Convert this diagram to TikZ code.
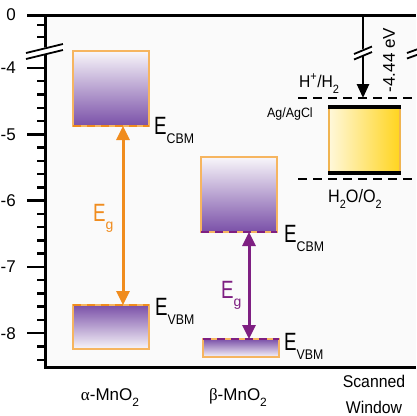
\documentclass[tikz,border=0pt]{standalone}
\usepackage{fontspec}
\setmainfont{Liberation Sans}
\newfontfamily\grk{Liberation Serif}
\usetikzlibrary{arrows.meta}
\definecolor{boxor}{HTML}{F6B560}
\definecolor{aor}{HTML}{F08C1E}
\definecolor{purp}{HTML}{7E1F82}
\definecolor{lav}{HTML}{7A50A8}
\definecolor{lavtop}{HTML}{F8F6FA}
\definecolor{ylw}{HTML}{FFD41E}
\definecolor{pale}{HTML}{FFF8DA}
\definecolor{yedge}{HTML}{F0B450}
\definecolor{bg}{HTML}{FAFAFA}
\newcommand{\nsc}[2]{\scalebox{#1}[1]{#2}}
\newcommand{\Elab}[1]{\nsc{0.75}{\fontsize{25}{25}\selectfont E}\raisebox{-9pt}{\nsc{0.88}{\fontsize{14}{14}\selectfont #1}}}
\newcommand{\Egap}{\nsc{0.75}{\fontsize{25}{25}\selectfont E}\raisebox{-8pt}{\fontsize{14}{14}\selectfont g}}
\newcommand{\subtwo}{\raisebox{-6pt}{\fontsize{12}{12}\selectfont 2}}
\begin{document}
\begin{tikzpicture}[x=1pt,y=-1pt,
  tickline/.style={line width=2.4pt},
  spine/.style={line width=3pt},
  bandbox/.style={draw=boxor,line width=2.5pt},
  gaparr/.style={line width=3pt,{Triangle[width=13pt,length=14pt]}-{Triangle[width=13pt,length=14pt]}},
  lvl/.style={line width=2.8pt,dash pattern=on 9pt off 6pt},
  edgedash/.style={line width=2.6pt,dash pattern=on 8pt off 6pt},
  brk/.style={line width=1.8pt},
  lab/.style={inner sep=0pt,font=\fontsize{17}{17}\selectfont},
  txt/.style={inner sep=0pt}
]
\useasboundingbox (0,0) rectangle (416,416);
\fill[bg] (45,15) rectangle (416,367);

% axes
\draw[spine] (27,15) -- (416,15);
\draw[spine,line join=miter] (45,15) -- (45,367) -- (416,367);
\foreach \i in {1,...,22} {
  \draw[tickline] (37,{68+13.26*\i}) -- (45,{68+13.26*\i});
}
\draw[tickline] (37,25) -- (45,25);
\draw[tickline] (37,37) -- (45,37);
\foreach \e/\i in {-4/0,-5/5,-6/10,-7/15,-8/20} {
  \draw[tickline] (27,{68+13.26*\i}) -- (45,{68+13.26*\i});
  \node[lab,anchor=east] (t\i) at (16,{68+13.26*\i}) {\e};
}
\node[lab,anchor=east] (t0top) at (16,15) {0};
% axis break
\fill[white] (25,52) -- (64,43) -- (64,50) -- (25,59) -- cycle;
\draw[brk] (26,53) -- (63,44);
\draw[brk] (26,59) -- (63,50);

% alpha-MnO2
\shade[top color=lavtop,bottom color=lav] (73,51) rectangle (149,126);
\draw[bandbox] (73,51) rectangle (149,126);
\draw[edgedash,aor] (73,126) -- (149,126);
\shade[top color=lav,bottom color=lavtop] (73,305) rectangle (149,349);
\draw[bandbox] (73,305) rectangle (149,349);
\draw[edgedash,aor] (73,305) -- (149,305);
\coordinate (aC) at (123,126);
\coordinate (aV) at (123,305);
\draw[gaparr,aor] (aC) -- (aV);
\node[txt,anchor=base west] (aCBM) at (154,134) {\Elab{CBM}};
\node[txt,anchor=base west] (aVBM) at (155,315) {\Elab{VBM}};
\node[txt,anchor=base west,text=aor] (aEg) at (93,221) {\Egap};

% beta-MnO2
\shade[top color=lavtop,bottom color=lav] (201,157) rectangle (277,232);
\draw[bandbox] (201,157) rectangle (277,232);
\draw[edgedash,purp] (201,232) -- (277,232);
\shade[top color=lav,bottom color=lavtop] (203,339) rectangle (279,357);
\draw[bandbox] (203,339) rectangle (279,357);
\draw[edgedash,purp] (203,339) -- (279,339);
\coordinate (bC) at (249,232);
\coordinate (bV) at (249,339);
\draw[gaparr,purp] (bC) -- (bV);
\node[txt,anchor=base west] (bCBM) at (284,242) {\Elab{CBM}};
\node[txt,anchor=base west] (bVBM) at (284,350) {\Elab{VBM}};
\node[txt,anchor=base west,text=purp] (bEg) at (221,298) {\Egap};

% scanned window
\shade[left color=pale,right color=ylw] (329,107) rectangle (400,173);
\draw[yedge,line width=2pt] (329,108) -- (329,172) (400,108) -- (400,172);
\draw[line width=3.5pt] (328,107) -- (401,107);
\draw[line width=3.5pt] (328,173) -- (401,173);
\coordinate (hL) at (298,98);
\coordinate (hR) at (416,98);
\coordinate (oL) at (298,179);
\coordinate (oR) at (416,179);
\draw[lvl] (hL) -- (hR);
\draw[lvl] (oL) -- (oR);
\coordinate (vt) at (363,15);
\coordinate (vb) at (363,98);
\draw[line width=2.5pt,-{Triangle[width=12pt,length=14pt]}] (vt) -- (vb);
\fill[white] (353,53) -- (373,45) -- (373,52) -- (353,60) -- cycle;
\draw[brk] (354,54) -- (372,46.5);
\draw[brk] (354,59.5) -- (372,52);
\draw[brk] (407,53) -- (418,49);
\draw[brk] (407,58.5) -- (418,54.5);
\node[lab,rotate=90] (ev) at (389,60) {-4.44 eV};
\node[txt,anchor=base west,font=\fontsize{17}{17}\selectfont] (hh) at (299,87) {\nsc{0.92}{H\textsuperscript{+}/H\subtwo}};
\node[txt,anchor=base west,font=\fontsize{13.5}{13.5}\selectfont] (ag) at (267,117) {\nsc{0.92}{Ag/AgCl}};
\node[txt,anchor=base west,font=\fontsize{18}{18}\selectfont] (ho) at (328,202) {\nsc{0.9}{H\subtwo O/O\subtwo}};

% bottom labels
\node[lab,anchor=base] (la) at (110,400) {{\grk α}-MnO\subtwo};
\node[lab,anchor=base] (lb) at (238,400) {{\grk β}-MnO\subtwo};
\node[lab,anchor=base] (ls) at (374,387) {\nsc{0.93}{Scanned}};
\node[lab,anchor=base] (lw) at (374,413) {\nsc{0.93}{Window}};
\end{tikzpicture}
\end{document}
